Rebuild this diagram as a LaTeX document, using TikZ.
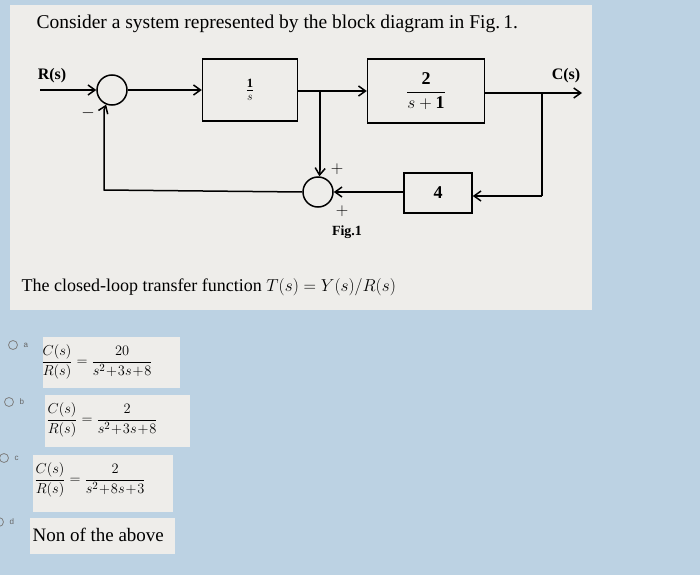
\documentclass[tikz,border=0pt]{standalone}
\usepackage{amsmath}
\usepackage{fontspec}
\setmainfont{Liberation Serif}
\newfontfamily\optsans{Liberation Sans}
\usetikzlibrary{arrows.meta}
\definecolor{bgblue}{HTML}{BCD2E3}
\definecolor{panel}{HTML}{EEEDEA}
\begin{document}
\begin{tikzpicture}[x=1pt,y=-1pt,
  blk/.style={draw,line width=1.5pt,minimum width=#1,inner sep=0pt,font=\fontsize{18}{20}\selectfont},
  sumj/.style={draw,circle,line width=1.5pt,minimum size=30pt,inner sep=0pt},
  sig/.style={line width=1.5pt,-{Straight Barb[length=7pt,width=10pt]}},
  wire/.style={line width=1.5pt},
  radio/.style={draw=gray,circle,line width=0.8pt,minimum size=9pt,inner sep=0pt},
  olab/.style={font=\optsans\footnotesize,text=gray!80!black},
  omath/.style={anchor=west,font=\fontsize{15}{17}\selectfont},
  opt/.style={fill=panel}]
\fill[bgblue] (0,0) rectangle (700,575);
\useasboundingbox (0,0) rectangle (700,575);
\fill[panel] (10,5) rectangle (592,310);
\node[anchor=west,font=\fontsize{19.5}{21}\selectfont] (title) at (33,24) {Consider a system represented by the block diagram in Fig.\,1.};
\node[font=\bfseries\fontsize{16}{18}\selectfont] (R) at (52,76) {R(s)};
\node[font=\bfseries\fontsize{16}{18}\selectfont] (C) at (566,76) {C(s)};
\coordinate (in) at (40,90);
\node[sumj] (s1) at (112,90) {};
\node[blk=95pt,minimum height=62pt] (b1) at (250,90) {$\frac{\mathbf 1}{s}$};
\node[blk=117pt,minimum height=64pt] (b2) at (426,91) {$\dfrac{\mathbf 2}{s+\mathbf 1}$};
\node[sumj] (s2) at (318,192) {};
\node[blk=68pt,minimum height=40pt] (b4) at (438,193) {\bfseries 4};
\coordinate (out) at (582,93);
\coordinate (j1) at (320,91);
\coordinate (j2) at (542,93);
\coordinate (j3) at (542,196);
\coordinate (j4) at (104,190);
\draw[sig] (in) -- (s1);
\draw[sig] (s1) -- (b1.west|-s1);
\draw[sig] (b1.east|-j1) -- (b2.west|-j1);
\draw[sig] (b2.east|-out) -- (out);
\draw[wire] (j1) -- (320,170);
\draw[sig] (320,170) -- (s2);
\draw[wire] (j2) -- (j3);
\draw[sig] (j3) -- (b4.east|-j3);
\draw[sig] (b4.west|-s2) -- (s2);
\draw[wire] (s2.west) -- (j4) -- (104,110);
\draw[sig] (104,110) -- (s1);
\node[font=\fontsize{16}{18}\selectfont] (m) at (88,113) {$-$};
\node[font=\fontsize{16}{18}\selectfont] (p1) at (337,169) {$+$};
\node[font=\fontsize{16}{18}\selectfont] (p2) at (342,211) {$+$};
\node[font=\bfseries\fontsize{14}{16}\selectfont] (fig) at (347,232) {Fig.1};
\node[anchor=west,font=\fontsize{18}{20}\selectfont] (cl) at (18,287) {The closed-loop transfer function $T(s)=Y(s)/R(s)$};
% options
\fill[opt] (43,337) rectangle (180,388);
\fill[opt] (45,395) rectangle (190,447);
\fill[opt] (33,455) rectangle (173,512);
\fill[opt] (30,518) rectangle (175,554);
\node[radio] (ra) at (13,345) {}; \node[olab,anchor=west] (la) at (20,345) {a};
\node[radio] (rb) at (9,402) {}; \node[olab,anchor=west] (lb) at (16,402) {b};
\node[radio] (rc) at (4,458) {}; \node[olab,anchor=west] (lc) at (11,458) {c};
\node[radio] (rd) at (-1,522) {}; \node[olab,anchor=west] (ld) at (6,522) {d};
\node[omath] (oa) at (38,362) {$\dfrac{C(s)}{R(s)}=\dfrac{\phantom{+}20\phantom{+}}{s^2\!+\!3s\!+\!8}$};
\node[omath] (ob) at (43,420) {$\dfrac{C(s)}{R(s)}=\dfrac{\phantom{++}2\phantom{++}}{s^2\!+\!3s\!+\!8}$};
\node[omath] (oc) at (31,480) {$\dfrac{C(s)}{R(s)}=\dfrac{\phantom{++}2\phantom{++}}{s^2\!+\!8s\!+\!3}$};
\node[anchor=west,font=\fontsize{19}{21}\selectfont] (od) at (29,535) {Non of the above};
\end{tikzpicture}
\end{document}
